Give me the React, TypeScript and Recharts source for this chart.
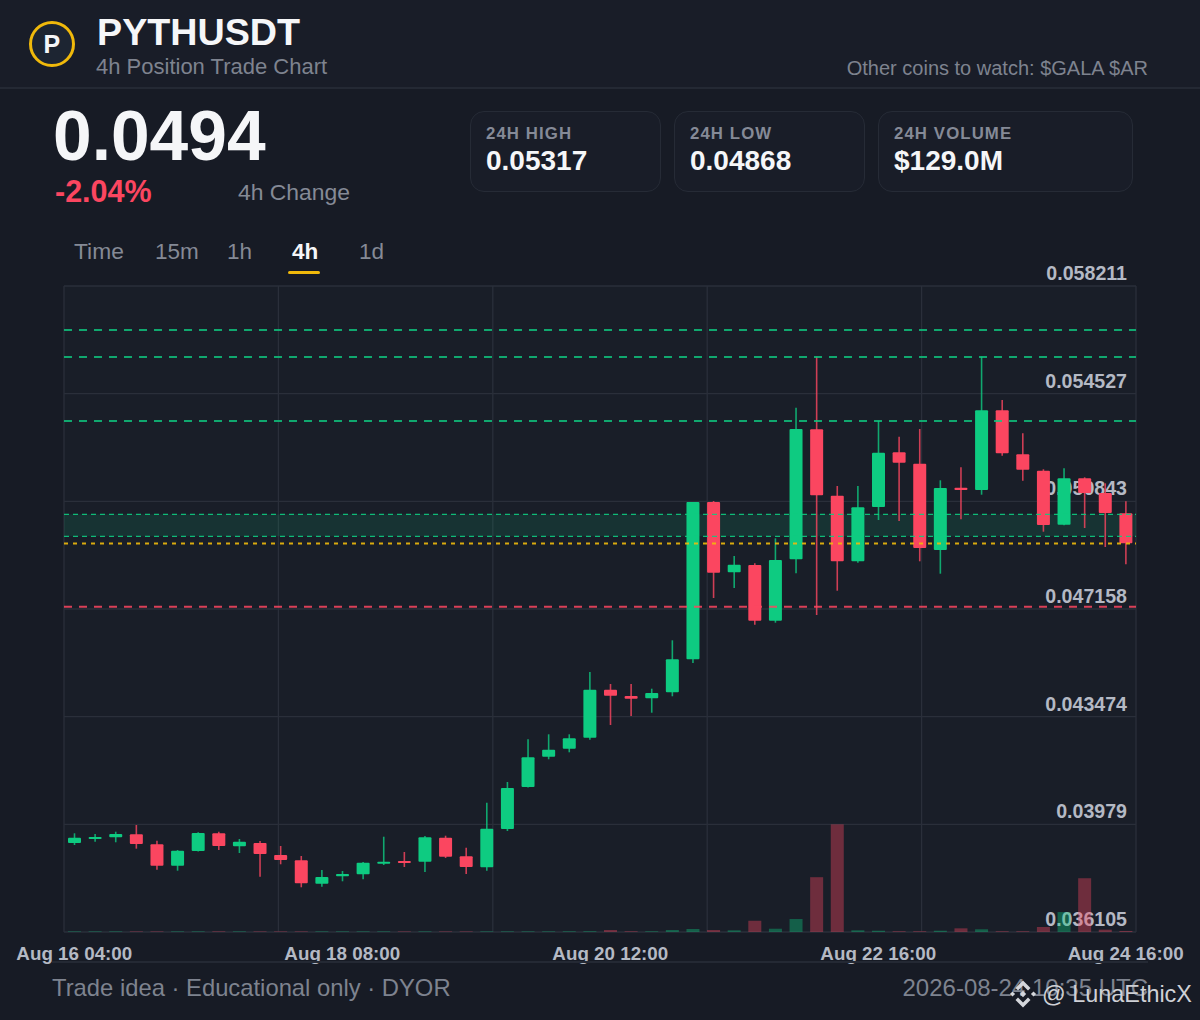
import React from "react";
import { ComposedChart, Bar, XAxis, YAxis, CartesianGrid, ReferenceLine, ReferenceArea } from "recharts";

const FONT = '"Liberation Sans", Arial, sans-serif';
const UP = "#0ecb81";
const DOWN = "#fb4660";

const times = [
  "Aug 16 04:00","Aug 16 08:00","Aug 16 12:00","Aug 16 16:00","Aug 16 20:00",
  "Aug 17 00:00","Aug 17 04:00","Aug 17 08:00","Aug 17 12:00","Aug 17 16:00","Aug 17 20:00",
  "Aug 18 00:00","Aug 18 04:00","Aug 18 08:00","Aug 18 12:00","Aug 18 16:00","Aug 18 20:00",
  "Aug 19 00:00","Aug 19 04:00","Aug 19 08:00","Aug 19 12:00","Aug 19 16:00","Aug 19 20:00",
  "Aug 20 00:00","Aug 20 04:00","Aug 20 08:00","Aug 20 12:00","Aug 20 16:00","Aug 20 20:00",
  "Aug 21 00:00","Aug 21 04:00","Aug 21 08:00","Aug 21 12:00","Aug 21 16:00","Aug 21 20:00",
  "Aug 22 00:00","Aug 22 04:00","Aug 22 08:00","Aug 22 12:00","Aug 22 16:00","Aug 22 20:00",
  "Aug 23 00:00","Aug 23 04:00","Aug 23 08:00","Aug 23 12:00","Aug 23 16:00","Aug 23 20:00",
  "Aug 24 00:00","Aug 24 04:00","Aug 24 08:00","Aug 24 12:00","Aug 24 16:00",
];
const opens = [
  0.039151,0.039287,0.039346,0.039448,0.039106,0.038374,0.038877,0.039483,0.039038,0.039151,
  0.03874,0.038559,0.037758,0.038011,0.03808,0.038442,0.038535,0.038511,0.039332,0.038695,
  0.038319,0.03963,0.041067,0.042104,0.042378,0.042754,0.044397,0.044181,0.044102,0.044308,
  0.045437,0.05082,0.048414,0.048664,0.046758,0.048859,0.053307,0.051035,0.04879,0.050649,
  0.05252,0.05213,0.049177,0.051309,0.05123,0.053958,0.052452,0.051891,0.050043,0.051631,
  0.051128,0.050433,
];
const highs = [
  0.039483,0.039459,0.039537,0.039767,0.039229,0.038911,0.039517,0.039537,0.039287,0.039219,
  0.039048,0.038706,0.038227,0.038192,0.0385,0.039366,0.038843,0.03939,0.0394,0.03899,
  0.04053,0.041238,0.042699,0.04287,0.04287,0.045002,0.044592,0.044592,0.044431,0.046087,
  0.05082,0.050854,0.048972,0.048722,0.049577,0.054047,0.055792,0.051367,0.051367,0.053602,
  0.053054,0.053318,0.051562,0.052007,0.055792,0.05431,0.053171,0.051939,0.051973,0.051665,
  0.051459,0.050843,
];
const lows = [
  0.039082,0.039195,0.039175,0.038956,0.038237,0.038203,0.03886,0.038911,0.038808,0.037997,
  0.038422,0.037635,0.037655,0.03784,0.037908,0.038398,0.038329,0.038158,0.038637,0.03809,
  0.038203,0.039561,0.04105,0.042015,0.042254,0.042686,0.043189,0.043497,0.043609,0.044171,
  0.04531,0.047535,0.047877,0.046621,0.046689,0.04838,0.046953,0.047784,0.048743,0.050204,
  0.050169,0.04879,0.048366,0.050227,0.051069,0.052404,0.051548,0.049803,0.050022,0.04993,
  0.04928,0.048688,
];
const closes = [
  0.039332,0.039356,0.039459,0.039116,0.038374,0.038887,0.039493,0.039048,0.039195,0.038774,
  0.038569,0.037772,0.037987,0.03809,0.038476,0.038511,0.038466,0.039346,0.038682,0.038329,
  0.03964,0.041033,0.042083,0.042343,0.042733,0.044397,0.044191,0.044089,0.044284,0.045437,
  0.05082,0.0484,0.048674,0.046758,0.048835,0.053318,0.051049,0.04879,0.050638,0.052507,
  0.052164,0.049245,0.051299,0.05123,0.053958,0.052486,0.051925,0.050033,0.051631,0.051128,
  0.050443,0.049406,
];
const volumes = [
  1,1,1,0.9,0.9,1,1,1,1,0.9,
  0.9,0.9,1,1,1,1,0.9,1,0.9,0.9,
  1,1,1,1,1.1,1.2,3.1,1.1,1.1,3.1,
  4.7,3.1,2.6,17.5,5.1,20.2,85.3,167.6,2.6,2,
  1.1,1.1,2,5.7,4.2,1.1,1.1,7.8,31,83.7,
  3.6,1.6,
];

const priceTicks = [0.036105,0.03979,0.043474,0.047158,0.050843,0.054527,0.058211];
const priceDomain = [0.036105,0.058211];
const timeTicks = ["Aug 16 04:00","Aug 18 08:00","Aug 20 12:00","Aug 22 16:00","Aug 24 16:00"];
const gridFractions = [0,0.2,0.4,0.6,0.8,1];
const volumeDomain = [0,1005.6];
const targetLines = [0.056705,0.055782,0.053591];
const zone = [0.049646,0.050399];
const entryPrice = 0.0494;
const stopPrice = 0.047237;

const rows = times.map((time,i)=>{
  const up = closes[i]>=opens[i];
  const range = [lows[i],highs[i]];
  return {time,open:opens[i],high:highs[i],low:lows[i],close:closes[i],up,
    volume:volumes[i],upRange:up?range:null,downRange:up?null:range};
});

function Candle(props:any){
  const {x,y,width,height,payload}=props;
  if(payload==null||!Number.isFinite(y)||!Number.isFinite(height))return null;
  const color=payload.up?UP:DOWN;
  const k=height/Math.max(payload.high-payload.low,1e-9);
  const top=y+(payload.high-Math.max(payload.open,payload.close))*k;
  const bot=y+(payload.high-Math.min(payload.open,payload.close))*k;
  const cx=x+width/2;
  return <g>
    <line x1={cx} x2={cx} y1={y} y2={y+height} stroke={color} strokeOpacity={0.8} strokeWidth={1.6}/>
    <rect x={x} y={top} width={width} height={Math.max(bot-top,1.6)} rx={1} fill={color}/>
  </g>;
}
function VolumeBar(props:any){
  const {x,y,width,height,payload}=props;
  if(payload==null||!Number.isFinite(y))return null;
  return <rect x={x} y={y} width={width} height={height} fill={payload.up?UP:DOWN} fillOpacity={0.38}/>;
}
function PriceTick(props:any){
  const {x,y,payload}=props;
  return <text x={x-15} y={y-13} textAnchor="end" dominantBaseline="central" fontFamily={FONT} fontWeight={700} fontSize={19.6} fill="#b4b9c4">{String(payload.value)}</text>;
}
function TimeTick(props:any){
  const {x,y,payload}=props;
  return <text x={x} y={y+13} textAnchor="middle" dominantBaseline="central" fontFamily={FONT} fontWeight={700} fontSize={18.8} fill="#b4b9c4">{payload.value}</text>;
}
const verticalLines=({offset}:any)=>gridFractions.map(f=>offset.left+offset.width*f);

function T({x,y,size,color,weight=400,right=false,spacing=0,children}:any){
  return <div style={{position:"absolute",left:right?undefined:x,right:right?1200-x:undefined,top:y,transform:"translateY(-50%)",
    fontFamily:FONT,fontSize:size,color,fontWeight:weight,letterSpacing:spacing,lineHeight:1,whiteSpace:"nowrap"}}>{children}</div>;
}
function Card({x,w,label,value}:any){
  return <>
    <div style={{position:"absolute",left:x,top:111,width:w,height:81,boxSizing:"border-box",border:"1.5px solid #262b36",borderRadius:14,background:"#191d28"}}/>
    <T x={x+16} y={133.5} size={16.8} weight={700} color="#858a97" spacing={1.1}>{label}</T>
    <T x={x+16} y={161} size={28} weight={700} color="#f5f6f8">{value}</T>
  </>;
}

export default function App(){
  return <div style={{position:"absolute",left:0,top:0,width:1200,height:1020,overflow:"hidden",background:"#171b25"}}>
    <div style={{position:"absolute",left:0,top:0,width:1200,height:88,background:"#191d28"}}/>
    <div style={{position:"absolute",left:0,top:87,width:1200,height:2,background:"#242934"}}/>
    <div style={{position:"absolute",left:29,top:21,width:46,height:46,boxSizing:"border-box",border:"3px solid #f0b90b",borderRadius:"50%",background:"#1d2532"}}/>
    <T x={43.5} y={44} size={25} weight={700} color="#f5f6f8">P</T>
    <T x={97} y={33} size={37.7} weight={700} color="#f5f6f8">PYTHUSDT</T>
    <T x={96} y={67} size={22} color="#7e838f">4h Position Trade Chart</T>
    <T x={1148} y={68} right size={20} color="#7e838f">Other coins to watch: $GALA $AR</T>

    <T x={53} y={137} size={69.5} weight={700} color="#f5f6f8">0.0494</T>
    <T x={55} y={191} size={30.5} weight={700} color={DOWN}>-2.04%</T>
    <T x={238} y={192} size={22.9} color="#858a96">4h Change</T>
    <Card x={470} w={191} label="24H HIGH" value="0.05317"/>
    <Card x={674} w={191} label="24H LOW" value="0.04868"/>
    <Card x={878} w={255} label="24H VOLUME" value="$129.0M"/>

    <T x={74} y={251} size={22.8} color="#858a96">Time</T>
    <T x={155} y={252} size={22.5} color="#858a96">15m</T>
    <T x={227} y={252} size={22.5} color="#858a96">1h</T>
    <T x={292} y={252} size={22.5} weight={700} color="#f5f6f8">4h</T>
    <T x={359} y={252} size={22.5} color="#858a96">1d</T>
    <div style={{position:"absolute",left:288,top:271,width:32,height:3,borderRadius:2,background:"#f0b90b"}}/>

    {/* lower layer: plot background, grid, price labels, entry zone */}
    <div style={{position:"absolute",left:0,top:0}}>
      <ComposedChart width={1200} height={1020} data={rows} margin={{top:286,right:63,bottom:88,left:64}}>
        <XAxis xAxisId="x" dataKey="time" hide/>
        <YAxis yAxisId="price" orientation="right" width={1} type="number" domain={priceDomain} ticks={priceTicks} interval={0} axisLine={false} tickLine={false} tickMargin={0} tick={<PriceTick/>} allowDataOverflow/>
        <CartesianGrid xAxisId="x" yAxisId="price" stroke="#2a2f3a" strokeWidth={1.3} fill="#191e28" fillOpacity={1} verticalCoordinatesGenerator={verticalLines}/>
        <ReferenceArea xAxisId="x" yAxisId="price" y1={zone[0]} y2={zone[1]} fill={UP} fillOpacity={0.12} stroke="none" ifOverflow="visible"/>
      </ComposedChart>
    </div>

    {/* upper layer: volume, candles, levels, time labels */}
    <div style={{position:"absolute",left:0,top:0}}>
      <ComposedChart width={1200} height={1020} data={rows} barCategoryGap={0} margin={{top:286,right:64,bottom:58,left:64}}>
        <XAxis xAxisId="x" dataKey="time" ticks={timeTicks} interval={0} height={30} axisLine={false} tickLine={false} tick={<TimeTick/>} padding={{left:0,right:0}}/>
        <XAxis xAxisId="xr" dataKey="time" hide/>
        <XAxis xAxisId="xv" dataKey="time" hide/>
        <YAxis yAxisId="price" type="number" domain={priceDomain} allowDataOverflow hide/>
        <YAxis yAxisId="vol" type="number" domain={volumeDomain} hide/>
        <Bar xAxisId="xv" yAxisId="vol" dataKey="volume" barSize={13} isAnimationActive={false} shape={<VolumeBar/>}/>
        <Bar xAxisId="x" yAxisId="price" dataKey="upRange" barSize={13} isAnimationActive={false} shape={<Candle/>}/>
        {targetLines.map(v=><ReferenceLine key={v} xAxisId="x" yAxisId="price" y={v} stroke={UP} strokeOpacity={0.8} strokeWidth={2} strokeDasharray="8 7"/>)}
        {zone.map(v=><ReferenceLine key={v} xAxisId="x" yAxisId="price" y={v} stroke={UP} strokeOpacity={0.9} strokeWidth={1.2} strokeDasharray="5 4"/>)}
        <ReferenceLine xAxisId="x" yAxisId="price" y={entryPrice} stroke="#f0b90b" strokeOpacity={0.9} strokeWidth={2} strokeDasharray="4 5"/>
        <ReferenceLine xAxisId="x" yAxisId="price" y={stopPrice} stroke={DOWN} strokeOpacity={0.85} strokeWidth={2} strokeDasharray="8 7"/>
        <Bar xAxisId="xr" yAxisId="price" dataKey="downRange" barSize={13} isAnimationActive={false} shape={<Candle/>}/>
      </ComposedChart>
    </div>

    <div style={{position:"absolute",left:52,top:961,width:1096,height:2,background:"#242934"}}/>
    <T x={52} y={988} size={23.8} color="#7e838f">Trade idea · Educational only · DYOR</T>
    <T x={1148} y={988} right size={24} color="#7e838f">2026-08-24 10:35 UTC</T>
    <svg style={{position:"absolute",left:1009,top:980}} width={28} height={28} viewBox="0 0 28 28">
      <g fill="#d4d6db">
        <path d="M14 0.5 L21.5 8 L19 10.5 L14 5.5 L9 10.5 L6.5 8 Z"/>
        <path d="M14 27.5 L21.5 20 L19 17.5 L14 22.5 L9 17.5 L6.5 20 Z"/>
        <path d="M3.5 11.4 L6.1 14 L3.5 16.6 L0.9 14 Z"/>
        <path d="M24.5 11.4 L27.1 14 L24.5 16.6 L21.9 14 Z"/>
        <path d="M14 10.8 L17.2 14 L14 17.2 L10.8 14 Z"/>
      </g>
    </svg>
    <T x={1042} y={995} size={23.4} color="#cfd1d6">@ LunaEthicX</T>
  </div>;
}
